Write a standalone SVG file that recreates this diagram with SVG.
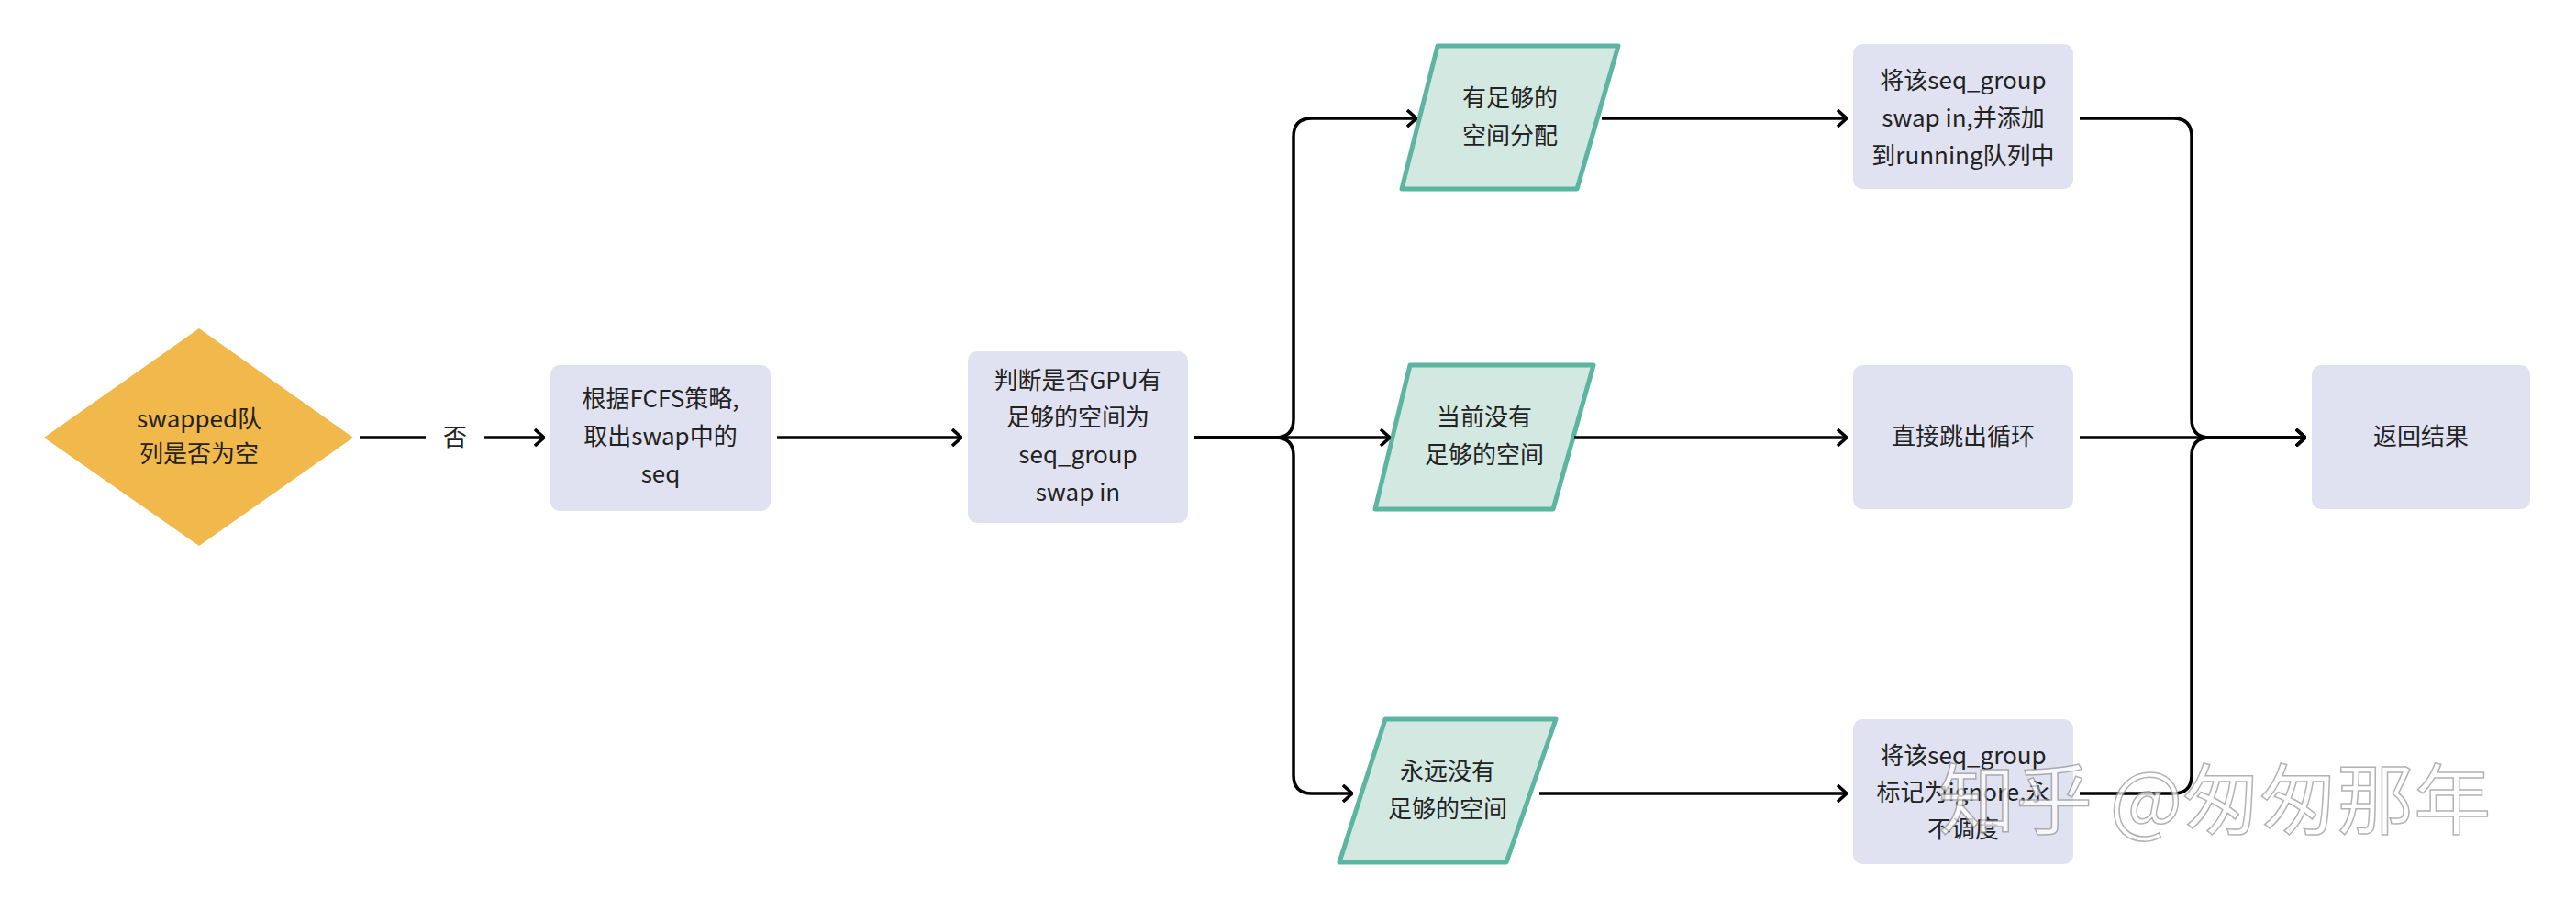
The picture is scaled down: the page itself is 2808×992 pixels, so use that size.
<svg xmlns="http://www.w3.org/2000/svg" width="2808" height="992" viewBox="0 0 2808 992">
<style>
text{font-family:"Noto Sans CJK SC","Noto Sans",sans-serif;font-size:26px;fill:#222;text-anchor:middle;dominant-baseline:middle}
.box{fill:#E1E2F1}
.para{fill:#D2E8E1;stroke:#5BB5A0;stroke-width:5;stroke-linejoin:round}
.c{fill:none;stroke:#000;stroke-width:3.5}
</style>
<defs><marker id="a" viewBox="0 0 12 20" refX="11" refY="10" markerWidth="12" markerHeight="20" markerUnits="userSpaceOnUse" orient="auto"><path d="M1,1 L11,10 L1,19" fill="none" stroke="#000" stroke-width="3.5"/></marker></defs>
<rect width="2808" height="992" fill="#fff"/>
<g id="n1"><polygon points="217,358 385,477 217,595 48,477" fill="#F1B84C"/><text x="217" y="459">swapped队</text><text x="217" y="497">列是否为空</text></g>
<g id="n2"><rect class="box" x="600" y="398" width="240" height="159" rx="10"/><text x="720" y="437">根据FCFS策略,</text><text x="720" y="478">取出swap中的</text><text x="720" y="519">seq</text></g>
<g id="n3"><rect class="box" x="1055" y="383" width="240" height="187" rx="10"/><text x="1175" y="417">判断是否GPU有</text><text x="1175" y="457">足够的空间为</text><text x="1175" y="498">seq_group</text><text x="1175" y="539">swap in</text></g>
<g id="n4"><polygon class="para" points="1567,50 1764,50 1719,206 1528,206"/><text x="1646" y="109">有足够的</text><text x="1646" y="150">空间分配</text></g>
<g id="n5"><polygon class="para" points="1537,398 1737,398 1693,555 1499,555"/><text x="1618" y="457">当前没有</text><text x="1618" y="498">足够的空间</text></g>
<g id="n6"><polygon class="para" points="1510,784 1696,784 1642,940 1460,940"/><text x="1578" y="843">永远没有</text><text x="1578" y="884">足够的空间</text></g>
<g id="n7"><rect class="box" x="2020" y="48" width="240" height="158" rx="10"/><text x="2140" y="90">将该seq_group</text><text x="2140" y="131">swap in,并添加</text><text x="2140" y="172">到running队列中</text></g>
<g id="n8"><rect class="box" x="2020" y="398" width="240" height="157" rx="10"/><text x="2140" y="478">直接跳出循环</text></g>
<g id="n9"><rect class="box" x="2020" y="784" width="240" height="158" rx="10"/><text x="2140" y="826">将该seq_group</text><text x="2140" y="866">标记为ignore,永</text><text x="2140" y="906">不调度</text></g>
<g id="n10"><rect class="box" x="2520" y="398" width="238" height="157" rx="10"/><text x="2639" y="478">返回结果</text></g>
<g id="connectors">
<path class="c" d="M392,477 H464"/><text x="496" y="479">否</text><path class="c" d="M528,477 H593" marker-end="url(#a)"/>
<path class="c" d="M847,477 H1048" marker-end="url(#a)"/>
<path class="c" d="M1302,477 H1390 Q1410,477 1410,457 V149 Q1410,129 1430,129 H1544" marker-end="url(#a)"/>
<path class="c" d="M1302,477 H1515" marker-end="url(#a)"/>
<path class="c" d="M1302,477 H1390 Q1410,477 1410,497 V845 Q1410,865 1430,865 H1474" marker-end="url(#a)"/>
<path class="c" d="M1746,129 H2013" marker-end="url(#a)"/>
<path class="c" d="M1716,477 H2013" marker-end="url(#a)"/>
<path class="c" d="M1678,865 H2013" marker-end="url(#a)"/>
<path class="c" d="M2267,129 H2369 Q2389,129 2389,149 V457 Q2389,477 2409,477 H2513" marker-end="url(#a)"/>
<path class="c" d="M2267,477 H2513" marker-end="url(#a)"/>
<path class="c" d="M2267,865 H2369 Q2389,865 2389,845 V497 Q2389,477 2409,477 H2513" marker-end="url(#a)"/>
</g>
<text x="2113" y="880" style="text-anchor:start;font-size:84px;fill:#fff;opacity:0.75;stroke:#999;stroke-width:1.5">知乎 @匆匆那年</text>
</svg>
